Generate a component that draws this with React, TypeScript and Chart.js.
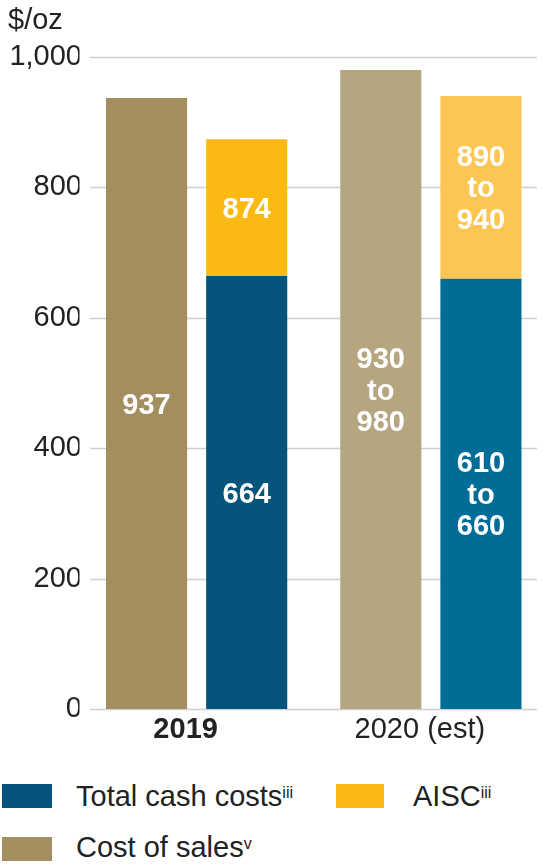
import { Chart, registerables, type Plugin } from 'chart.js';
import { type FC, useEffect, useRef } from 'react';

Chart.register(...registerables);

const FONT = '"Liberation Sans", Arial, sans-serif';

const categories = ['2019', '2020 (est)'];
const costOfSales = [937, 980];
const totalCashCosts = [664, 660];
const aisc = [874, 940];

const costOfSalesLabels = ['937', '930\nto\n980'];
const totalCashLabels = ['664', '610\nto\n660'];
const aiscLabels = ['874', '890\nto\n940'];

const costOfSalesColors = ['#a38e5f', '#b5a680'];
const totalCashColors = ['#04547c', '#006d97'];
const aiscColors = ['#fbb913', '#fdc654'];

const barLabels = [costOfSalesLabels, totalCashLabels, aiscLabels];

// grid lines are a little shorter than the plot area, so draw them by hand
const gridPlugin: Plugin<'bar'> = {
  id: 'shortGrid',
  beforeDatasetsDraw(chart) {
    const { ctx, chartArea, scales } = chart;
    const y = scales.y;
    ctx.save();
    ctx.strokeStyle = '#d0d0d0';
    ctx.lineWidth = 1.5;
    y.ticks.forEach((t) => {
      const py = Math.round(y.getPixelForValue(t.value)) + 0.5;
      ctx.beginPath();
      ctx.moveTo(chartArea.left + 10.5, py);
      ctx.lineTo(chartArea.right - 11, py);
      ctx.stroke();
    });
    ctx.fillStyle = '#222';
    ctx.font = `29px ${FONT}`;
    ctx.textAlign = 'left';
    ctx.textBaseline = 'alphabetic';
    ctx.fillText('$/oz', 8, 29);
    ctx.restore();
  },
};

const labelPlugin: Plugin<'bar'> = {
  id: 'barLabels',
  afterDatasetsDraw(chart) {
    const { ctx } = chart;
    ctx.save();
    ctx.fillStyle = '#fff';
    ctx.font = `bold 29px ${FONT}`;
    ctx.textAlign = 'center';
    ctx.textBaseline = 'middle';
    const lh = 31.5;
    chart.data.datasets.forEach((_, di) => {
      const meta = chart.getDatasetMeta(di);
      meta.data.forEach((bar, i) => {
        const { x, y, base } = bar.getProps(['x', 'y', 'base'], true) as {
          x: number;
          y: number;
          base: number;
        };
        const lines = barLabels[di][i].split('\n');
        const cy = (y + base) / 2 + 2;
        lines.forEach((line, li) => {
          ctx.fillText(line, x, cy + (li - (lines.length - 1) / 2) * lh);
        });
      });
    });
    ctx.restore();
  },
};

const Legend: FC = () => {
  const text = { position: 'absolute' as const, fontSize: 29, lineHeight: '29px', color: '#222', fontFamily: FONT, whiteSpace: 'nowrap' as const };
  const sup = { fontSize: 16, lineHeight: '16px', verticalAlign: 'top', position: 'relative' as const, top: 3 };
  return (
    <>
      <div style={{ position: 'absolute', left: 2, top: 784, width: 50, height: 24, background: totalCashColors[0] }} />
      <div style={{ ...text, left: 76, top: 782 }}>
        Total cash costs<span style={sup}>iii</span>
      </div>
      <div style={{ position: 'absolute', left: 336, top: 784, width: 48, height: 24, background: aiscColors[0] }} />
      <div style={{ ...text, left: 413, top: 782 }}>
        AISC<span style={sup}>iii</span>
      </div>
      <div style={{ position: 'absolute', left: 2, top: 837, width: 50, height: 24, background: costOfSalesColors[0] }} />
      <div style={{ ...text, left: 76, top: 833 }}>
        Cost of sales<span style={sup}>v</span>
      </div>
    </>
  );
};

const App: FC = () => {
  const canvasRef = useRef<HTMLCanvasElement>(null);
  const chartRef = useRef<Chart<'bar'> | null>(null);

  useEffect(() => {
    document.body.style.margin = '0';
    if (!canvasRef.current) return;
    const context = canvasRef.current.getContext('2d');
    if (!context) return;

    chartRef.current = new Chart(context, {
      type: 'bar',
      data: {
        labels: categories,
        datasets: [
          {
            label: 'Cost of sales',
            data: costOfSales,
            backgroundColor: costOfSalesColors,
            stack: 'cos',
          },
          {
            label: 'Total cash costs',
            data: totalCashCosts,
            backgroundColor: totalCashColors,
            stack: 'cash',
          },
          {
            label: 'AISC',
            data: aisc.map((v, i) => v - totalCashCosts[i]),
            backgroundColor: aiscColors,
            stack: 'cash',
          },
        ],
      },
      options: {
        animation: false,
        responsive: true,
        maintainAspectRatio: false,
        categoryPercentage: 0.855,
        barPercentage: 0.81,
        layout: { padding: { top: 57, left: 0, right: 0, bottom: 0 } },
        plugins: {
          legend: { display: false },
          tooltip: { enabled: false },
        },
        scales: {
          x: {
            stacked: true,
            grid: { display: false, drawTicks: false },
            border: { display: false },
            ticks: {
              color: '#222',
              labelOffset: -11,
              padding: 4,
              font: (ctx) => ({
                family: FONT,
                size: 29,
                weight: ctx.index === 0 ? 'bold' : 'normal',
              }),
            },
            afterFit: (scale) => {
              scale.height = 51;
            },
          },
          y: {
            stacked: true,
            min: 0,
            max: 1000,
            grid: { display: false, drawTicks: false },
            border: { display: false },
            ticks: {
              stepSize: 200,
              color: '#222',
              padding: -2.5,
              font: { family: FONT, size: 29 },
              callback: (v) => Number(v).toLocaleString('en-US'),
            },
            afterFit: (scale) => {
              scale.width = 79.5;
            },
          },
        },
      },
      plugins: [gridPlugin, labelPlugin],
    });

    return () => {
      chartRef.current?.destroy();
    };
  }, []);

  return (
    <div style={{ position: 'relative', width: 548, height: 867, background: '#fff' }}>
      <div style={{ position: 'absolute', left: 0, top: 0, width: 548, height: 760 }}>
        <canvas ref={canvasRef} />
      </div>
      <Legend />
    </div>
  );
};

export default App;
